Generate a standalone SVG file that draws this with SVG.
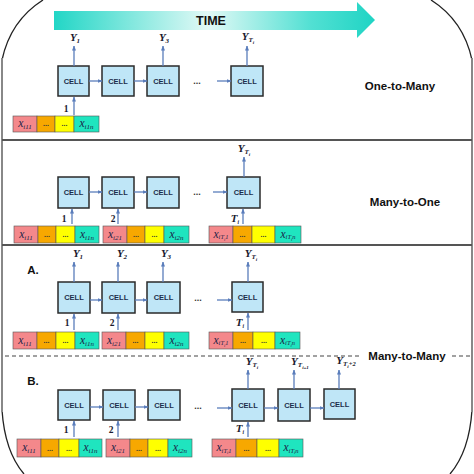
<svg xmlns="http://www.w3.org/2000/svg" width="474" height="474" viewBox="0 0 474 474">
<defs>
<linearGradient id="tg" x1="54" y1="0" x2="375" y2="0" gradientUnits="userSpaceOnUse">
<stop offset="0" stop-color="#22d6c6"/>
<stop offset="0.48" stop-color="#e2f9f6"/>
<stop offset="0.8" stop-color="#52e0d3"/>
<stop offset="1" stop-color="#1fd4c4"/>
</linearGradient>
<marker id="ah" markerWidth="5" markerHeight="5" refX="4.5" refY="2.5" orient="auto" markerUnits="userSpaceOnUse">
<path d="M0,0.5 L5,2.5 L0,4.5 Z" fill="#5a7dbb"/>
</marker>
<style>
.cell{fill:#bfe6f7;stroke:#2a2a2a;stroke-width:1.5}
.ct{font-family:"Liberation Sans",Arial,sans-serif;font-size:7.5px;font-weight:bold;fill:#1c2e4a;text-anchor:middle}
.con{stroke:#5a7dbb;stroke-width:1.3;fill:none;marker-end:url(#ah)}
.p{fill:#f4888b;stroke:#555;stroke-width:0.6}
.o{fill:#f7a800;stroke:#555;stroke-width:0.6}
.y{fill:#ffff00;stroke:#555;stroke-width:0.6}
.t{fill:#1fe5bf;stroke:#555;stroke-width:0.6}
.vx{font-family:"Liberation Serif","DejaVu Serif",serif;font-style:italic;font-size:11.5px;fill:#1c2448;text-anchor:middle}
.dots{font-family:"Liberation Sans",Arial,sans-serif;font-size:7px;font-weight:bold;fill:#333;text-anchor:middle}
.lab{font-family:"Liberation Serif","DejaVu Serif",serif;font-style:italic;font-weight:bold;font-size:11px;fill:#1a1a2e;text-anchor:middle}
.num{font-family:"Liberation Serif","DejaVu Serif",serif;font-weight:bold;font-size:9.5px;fill:#1a1a2e;text-anchor:middle}
.title{font-family:"Liberation Sans",Arial,sans-serif;font-weight:bold;font-size:11.5px;fill:#111;text-anchor:middle}
.sep{stroke:#555;stroke-width:2;fill:none}
.frame{stroke:#222;stroke-width:1.3;fill:none}
.side{stroke:#888;stroke-width:2;fill:none}
.bigdots{font-family:"Liberation Sans",Arial,sans-serif;font-size:9px;font-weight:bold;fill:#333;text-anchor:middle}
</style>
</defs>

<g id="frame">
<path class="frame" d="M43,0 C24,12 8,32 2,60"/>
<path class="frame" d="M431,0 C450,12 466,32 472,60"/>
<path class="frame" d="M2,410 C4,440 12,460 24,474"/>
<path class="frame" d="M472,410 C470,440 462,460 450,474"/>
<line class="side" x1="2" y1="58" x2="2" y2="412"/>
<line class="side" x1="472" y1="58" x2="472" y2="412"/>
<line class="sep" x1="2" y1="140" x2="472" y2="140"/>
<line class="sep" x1="2" y1="245" x2="472" y2="245"/>
<line x1="5" y1="356" x2="362" y2="356" stroke="#444" stroke-width="1.2" stroke-dasharray="4,3"/>
<line x1="452" y1="356" x2="472" y2="356" stroke="#444" stroke-width="1.2" stroke-dasharray="4,3"/>
</g>

<g id="time">
<polygon points="54,11 357,11 357,2 375,20 357,38 357,30 54,30" fill="url(#tg)"/>
<text x="211" y="25" font-family="Liberation Sans,Arial,sans-serif" font-weight="bold" font-size="12.5" fill="#111" text-anchor="middle">TIME</text>
</g>

<g id="titles">
<text class="title" x="400" y="90">One-to-Many</text>
<text class="title" x="405" y="206">Many-to-One</text>
<text class="title" x="407" y="360">Many-to-Many</text>
<text class="title" x="33" y="274">A.</text>
<text class="title" x="33" y="385">B.</text>
</g>

<!-- Section 1: One-to-Many -->
<g id="s1-cell1"><rect class="cell" x="58" y="66" width="31" height="30"/><text class="ct" x="73.5" y="83.5">CELL</text></g>
<g id="s1-cell2"><rect class="cell" x="102" y="66" width="32" height="30"/><text class="ct" x="118" y="83.5">CELL</text></g>
<g id="s1-cell3"><rect class="cell" x="147" y="66" width="32" height="30"/><text class="ct" x="163" y="83.5">CELL</text></g>
<g id="s1-cell4"><rect class="cell" x="231" y="66" width="32" height="30"/><text class="ct" x="247" y="83.5">CELL</text></g>
<text class="bigdots" x="197" y="84">...</text>
<g id="s1-labels">
<text class="lab" x="75" y="41">Y<tspan font-size="7" dy="2">1</tspan></text>
<text class="lab" x="164" y="41">Y<tspan font-size="7" dy="2">3</tspan></text>
<text class="lab" x="248" y="40">Y<tspan font-size="7" dy="2">T</tspan><tspan font-size="5" dy="1.5">i</tspan></text>
<text class="num" x="66" y="112">1</text>
</g>
<g id="s1-input">
<rect class="p" x="13" y="116" width="24" height="16"/><rect class="o" x="37" y="116" width="18" height="16"/><rect class="y" x="55" y="116" width="19" height="16"/><rect class="t" x="74" y="116" width="25" height="16"/>
<text class="vx" x="25" y="127">x<tspan font-size="7" dy="2">i11</tspan></text>
<text class="dots" x="46" y="126">...</text><text class="dots" x="64.5" y="126">...</text>
<text class="vx" x="86.5" y="127">x<tspan font-size="7" dy="2">i1n</tspan></text>
</g>

<!-- Section 2: Many-to-One -->
<g id="s2-cell1"><rect class="cell" x="58" y="177" width="31" height="31"/><text class="ct" x="73.5" y="195">CELL</text></g>
<g id="s2-cell2"><rect class="cell" x="102" y="177" width="32" height="31"/><text class="ct" x="118" y="195">CELL</text></g>
<g id="s2-cell3"><rect class="cell" x="147" y="177" width="32" height="31"/><text class="ct" x="163" y="195">CELL</text></g>
<g id="s2-cell4"><rect class="cell" x="227" y="177" width="33" height="31"/><text class="ct" x="243.5" y="195">CELL</text></g>
<text class="bigdots" x="197" y="195">...</text>
<g id="s2-labels">
<text class="lab" x="244" y="152">Y<tspan font-size="7" dy="2">T</tspan><tspan font-size="5" dy="1.5">i</tspan></text>
<text class="num" x="64" y="222">1</text>
<text class="num" x="113" y="222">2</text>
<text class="lab" x="235" y="222" font-size="10">T<tspan font-size="5.5" dy="1.5">i</tspan></text>
</g>
<g id="s2-input1">
<rect class="p" x="14" y="226" width="24" height="17"/><rect class="o" x="38" y="226" width="18" height="17"/><rect class="y" x="56" y="226" width="19" height="17"/><rect class="t" x="75" y="226" width="24" height="17"/>
<text class="vx" x="26" y="237.5">x<tspan font-size="7" dy="2">i11</tspan></text>
<text class="dots" x="47" y="237">...</text><text class="dots" x="65.5" y="237">...</text>
<text class="vx" x="87" y="237.5">x<tspan font-size="7" dy="2">i1n</tspan></text>
</g>
<g id="s2-input2">
<rect class="p" x="103" y="226" width="24" height="17"/><rect class="o" x="127" y="226" width="18" height="17"/><rect class="y" x="145" y="226" width="19" height="17"/><rect class="t" x="164" y="226" width="25" height="17"/>
<text class="vx" x="115" y="237.5">x<tspan font-size="7" dy="2">i21</tspan></text>
<text class="dots" x="136" y="237">...</text><text class="dots" x="154.5" y="237">...</text>
<text class="vx" x="176.5" y="237.5">x<tspan font-size="7" dy="2">i2n</tspan></text>
</g>
<g id="s2-input3">
<rect class="p" x="209" y="226" width="24" height="17"/><rect class="o" x="233" y="226" width="19" height="17"/><rect class="y" x="252" y="226" width="23" height="17"/><rect class="t" x="275" y="226" width="26" height="17"/>
<text class="vx" x="221" y="237.5" font-size="10">x<tspan font-size="6.5" dy="1.5">iT</tspan><tspan font-size="4.5" dy="1.5">i</tspan><tspan font-size="6.5" dy="-1.5">1</tspan></text>
<text class="dots" x="242.5" y="237">...</text><text class="dots" x="263.5" y="237">...</text>
<text class="vx" x="288" y="237.5" font-size="10">x<tspan font-size="6.5" dy="1.5">iT</tspan><tspan font-size="4.5" dy="1.5">i</tspan><tspan font-size="6.5" dy="-1.5">n</tspan></text>
</g>

<!-- Section 3: Many-to-Many A -->
<g id="s3-cell1"><rect class="cell" x="58" y="282" width="32" height="31"/><text class="ct" x="74" y="300">CELL</text></g>
<g id="s3-cell2"><rect class="cell" x="102" y="282" width="33" height="31"/><text class="ct" x="118.5" y="300">CELL</text></g>
<g id="s3-cell3"><rect class="cell" x="147" y="282" width="33" height="31"/><text class="ct" x="163.5" y="300">CELL</text></g>
<g id="s3-cell4"><rect class="cell" x="232" y="282" width="31" height="30"/><text class="ct" x="247.5" y="299.5">CELL</text></g>
<text class="bigdots" x="198" y="301">...</text>
<g id="s3-labels">
<text class="lab" x="78" y="257">Y<tspan font-size="7" dy="2">1</tspan></text>
<text class="lab" x="122" y="257">Y<tspan font-size="7" dy="2">2</tspan></text>
<text class="lab" x="166" y="257">Y<tspan font-size="7" dy="2">3</tspan></text>
<text class="lab" x="251" y="257">Y<tspan font-size="7" dy="2">T</tspan><tspan font-size="5" dy="1.5">i</tspan></text>
<text class="num" x="67" y="326">1</text>
<text class="num" x="112" y="326">2</text>
<text class="lab" x="240" y="326" font-size="10">T<tspan font-size="5.5" dy="1.5">i</tspan></text>
</g>
<g id="s3-input1">
<rect class="p" x="13" y="332" width="24" height="17"/><rect class="o" x="37" y="332" width="19" height="17"/><rect class="y" x="56" y="332" width="19" height="17"/><rect class="t" x="75" y="332" width="24" height="17"/>
<text class="vx" x="25" y="343.5">x<tspan font-size="7" dy="2">i11</tspan></text>
<text class="dots" x="46.5" y="343">...</text><text class="dots" x="65.5" y="343">...</text>
<text class="vx" x="87" y="343.5">x<tspan font-size="7" dy="2">i1n</tspan></text>
</g>
<g id="s3-input2">
<rect class="p" x="102" y="332" width="24" height="17"/><rect class="o" x="126" y="332" width="19" height="17"/><rect class="y" x="145" y="332" width="19" height="17"/><rect class="t" x="164" y="332" width="25" height="17"/>
<text class="vx" x="114" y="343.5">x<tspan font-size="7" dy="2">i21</tspan></text>
<text class="dots" x="135.5" y="343">...</text><text class="dots" x="154.5" y="343">...</text>
<text class="vx" x="176.5" y="343.5">x<tspan font-size="7" dy="2">i2n</tspan></text>
</g>
<g id="s3-input3">
<rect class="p" x="209" y="332" width="24" height="17"/><rect class="o" x="233" y="332" width="20" height="17"/><rect class="y" x="253" y="332" width="22" height="17"/><rect class="t" x="275" y="332" width="25" height="17"/>
<text class="vx" x="221" y="343.5" font-size="10">x<tspan font-size="6.5" dy="1.5">iT</tspan><tspan font-size="4.5" dy="1.5">i</tspan><tspan font-size="6.5" dy="-1.5">1</tspan></text>
<text class="dots" x="243" y="343">...</text><text class="dots" x="264" y="343">...</text>
<text class="vx" x="287.5" y="343.5" font-size="10">x<tspan font-size="6.5" dy="1.5">iT</tspan><tspan font-size="4.5" dy="1.5">i</tspan><tspan font-size="6.5" dy="-1.5">n</tspan></text>
</g>

<!-- Section 4: Many-to-Many B -->
<g id="s4-cell1"><rect class="cell" x="58" y="390" width="32" height="30"/><text class="ct" x="74" y="407.5">CELL</text></g>
<g id="s4-cell2"><rect class="cell" x="103" y="390" width="32" height="30"/><text class="ct" x="119" y="407.5">CELL</text></g>
<g id="s4-cell3"><rect class="cell" x="148" y="390" width="32" height="30"/><text class="ct" x="164" y="407.5">CELL</text></g>
<g id="s4-cell4"><rect class="cell" x="232" y="389" width="32" height="32"/><text class="ct" x="248" y="407.5">CELL</text></g>
<g id="s4-cell5"><rect class="cell" x="278" y="389" width="32" height="32"/><text class="ct" x="294" y="407.5">CELL</text></g>
<g id="s4-cell6"><rect class="cell" x="324" y="389" width="31" height="30"/><text class="ct" x="339.5" y="406.5">CELL</text></g>
<text class="bigdots" x="198" y="409">...</text>
<g id="s4-labels">
<text class="lab" x="252" y="365">Y<tspan font-size="7" dy="2">T</tspan><tspan font-size="5" dy="1.5">i</tspan></text>
<text class="lab" x="300" y="365">Y<tspan font-size="7" dy="2">T</tspan><tspan font-size="5" dy="1.5">i+1</tspan></text>
<text class="lab" x="346" y="364">Y<tspan font-size="7" dy="2">T</tspan><tspan font-size="5" dy="1.5">i</tspan><tspan font-size="6.5" dy="-1.5">+2</tspan></text>
<text class="num" x="66" y="433">1</text>
<text class="num" x="111" y="433">2</text>
<text class="lab" x="240" y="432" font-size="10">T<tspan font-size="5.5" dy="1.5">i</tspan></text>
</g>
<g id="s4-input1">
<rect class="p" x="17" y="439" width="24" height="18"/><rect class="o" x="41" y="439" width="18" height="18"/><rect class="y" x="59" y="439" width="20" height="18"/><rect class="t" x="79" y="439" width="23" height="18"/>
<text class="vx" x="29" y="451">x<tspan font-size="7" dy="2">i11</tspan></text>
<text class="dots" x="50" y="450.5">...</text><text class="dots" x="69" y="450.5">...</text>
<text class="vx" x="90.5" y="451">x<tspan font-size="7" dy="2">i1n</tspan></text>
</g>
<g id="s4-input2">
<rect class="p" x="106" y="439" width="24" height="18"/><rect class="o" x="130" y="439" width="18" height="18"/><rect class="y" x="148" y="439" width="20" height="18"/><rect class="t" x="168" y="439" width="24" height="18"/>
<text class="vx" x="118" y="451">x<tspan font-size="7" dy="2">i21</tspan></text>
<text class="dots" x="139" y="450.5">...</text><text class="dots" x="158" y="450.5">...</text>
<text class="vx" x="180" y="451">x<tspan font-size="7" dy="2">i2n</tspan></text>
</g>
<g id="s4-input3">
<rect class="p" x="212" y="439" width="24" height="18"/><rect class="o" x="236" y="439" width="21" height="18"/><rect class="y" x="257" y="439" width="22" height="18"/><rect class="t" x="279" y="439" width="24" height="18"/>
<text class="vx" x="224" y="451" font-size="10">x<tspan font-size="6.5" dy="1.5">iT</tspan><tspan font-size="4.5" dy="1.5">i</tspan><tspan font-size="6.5" dy="-1.5">1</tspan></text>
<text class="dots" x="246.5" y="450.5">...</text><text class="dots" x="268" y="450.5">...</text>
<text class="vx" x="291" y="451" font-size="10">x<tspan font-size="6.5" dy="1.5">iT</tspan><tspan font-size="4.5" dy="1.5">i</tspan><tspan font-size="6.5" dy="-1.5">n</tspan></text>
</g>

<g id="connectors">
<!-- s1 -->
<line class="con" x1="89" y1="81" x2="102" y2="81"/>
<line class="con" x1="134" y1="81" x2="147" y2="81"/>
<line class="con" x1="217" y1="81" x2="231" y2="81"/>
<line class="con" x1="74" y1="66" x2="74" y2="46"/>
<line class="con" x1="163" y1="66" x2="163" y2="46"/>
<line class="con" x1="247" y1="66" x2="247" y2="46"/>
<line class="con" x1="74" y1="115" x2="74" y2="97"/>
<!-- s2 -->
<line class="con" x1="89" y1="192" x2="102" y2="192"/>
<line class="con" x1="134" y1="192" x2="147" y2="192"/>
<line class="con" x1="213" y1="192" x2="227" y2="192"/>
<line class="con" x1="244" y1="177" x2="244" y2="157"/>
<line class="con" x1="72" y1="224" x2="72" y2="209"/>
<line class="con" x1="118" y1="224" x2="118" y2="209"/>
<line class="con" x1="243" y1="224" x2="243" y2="209"/>
<!-- s3 -->
<line class="con" x1="90" y1="300" x2="102" y2="300"/>
<line class="con" x1="135" y1="300" x2="147" y2="300"/>
<line class="con" x1="217" y1="300" x2="232" y2="300"/>
<line class="con" x1="74" y1="282" x2="74" y2="262"/>
<line class="con" x1="118" y1="282" x2="118" y2="262"/>
<line class="con" x1="163" y1="282" x2="163" y2="262"/>
<line class="con" x1="248" y1="282" x2="248" y2="262"/>
<line class="con" x1="74" y1="330" x2="74" y2="314"/>
<line class="con" x1="118" y1="330" x2="118" y2="314"/>
<line class="con" x1="248" y1="330" x2="248" y2="313"/>
<!-- s4 -->
<line class="con" x1="90" y1="407" x2="103" y2="407"/>
<line class="con" x1="135" y1="407" x2="148" y2="407"/>
<line class="con" x1="217" y1="408" x2="232" y2="408"/>
<line class="con" x1="264" y1="408" x2="278" y2="408"/>
<line class="con" x1="310" y1="408" x2="324" y2="408"/>
<line class="con" x1="248" y1="389" x2="248" y2="370"/>
<line class="con" x1="294" y1="389" x2="294" y2="370"/>
<line class="con" x1="339" y1="389" x2="339" y2="370"/>
<line class="con" x1="74" y1="437" x2="74" y2="421"/>
<line class="con" x1="118" y1="437" x2="118" y2="421"/>
<line class="con" x1="248" y1="437" x2="248" y2="422"/>
</g>
</svg>
